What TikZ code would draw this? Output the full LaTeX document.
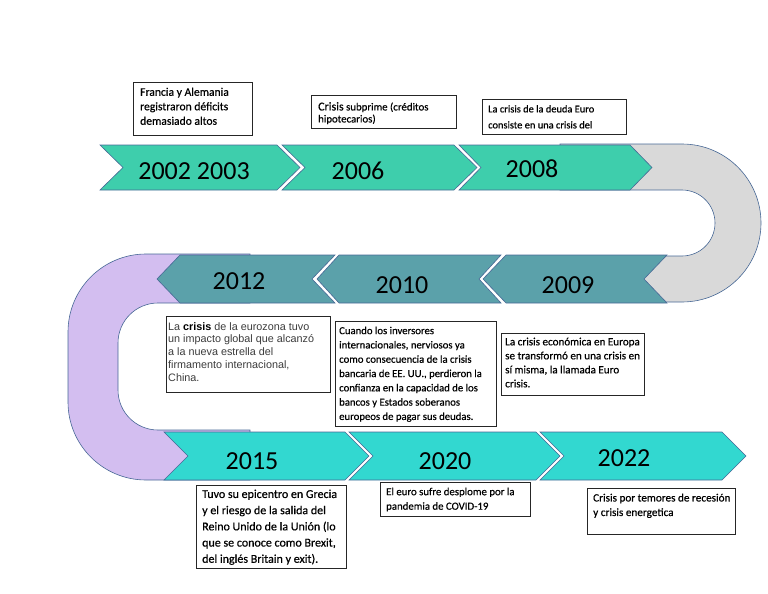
\documentclass[tikz,border=0pt]{standalone}
\usepackage{fontspec}
\setmainfont{Carlito}
\newfontfamily\boxf{Carlito}[FakeBold=0.5]
\newfontfamily\arialf{Liberation Sans}
\definecolor{topc}{RGB}{62,206,172}
\definecolor{midc}{RGB}{91,161,170}
\definecolor{botc}{RGB}{50,216,208}
\definecolor{grayc}{RGB}{217,217,217}
\definecolor{lavc}{RGB}{211,190,240}
\definecolor{edgec}{RGB}{72,104,150}
\definecolor{txtg}{RGB}{60,60,60}
\newcommand\chevR[6]{\path[#1] (#2,#4) -- (#3,#4) -- ({#3+#6},{(#4+#5)/2}) -- (#3,#5) -- (#2,#5) -- ({#2+#6},{(#4+#5)/2}) -- cycle;}
\newcommand\chevL[6]{\path[#1] (#2,{(#4+#5)/2}) -- ({#2+#6},#4) -- (#3,#4) -- ({#3-#6},{(#4+#5)/2}) -- (#3,#5) -- ({#2+#6},#5) -- cycle;}
\begin{document}
\begin{tikzpicture}[x=1pt,y=-1pt,
  shp/.style={draw=edgec, line width=0.6pt},
  year/.style={font=\fontsize{26}{28}\selectfont, inner sep=0pt},
  box/.style={draw=black!85, line width=0.7pt, fill=white, inner sep=0pt, anchor=north west},
  txt/.style={align=left, inner sep=0pt, anchor=north west}]
\useasboundingbox (0,0) rectangle (768,594);
% gray U-turn
\path[shp, fill=grayc] (560,144) -- (682,144) arc[start angle=-90, end angle=90, radius=79]
  -- (560,302) -- (560,256) -- (682,256) arc[start angle=90, end angle=-90, radius=33]
  -- (560,190) -- cycle;
% lavender U-turn
\path[shp, fill=lavc] (250,254) -- (146,254) arc[start angle=-90, end angle=-180, radius=78]
  -- (68,402) arc[start angle=180, end angle=90, radius=78]
  -- (250,480) -- (250,430) -- (158,430) arc[start angle=90, end angle=180, radius=40]
  -- (118,343) arc[start angle=180, end angle=270, radius=40] -- (250,303) -- cycle;
% row 1
\chevR{shp, fill=topc}{100}{277}{145}{190}{23}
\chevR{shp, fill=topc}{282}{454}{145}{190}{23}
\chevR{shp, fill=topc}{459}{630}{145}{190}{22}
% row 2
\chevL{shp, fill=midc}{483}{667}{255}{303}{23}
\chevL{shp, fill=midc}{317}{501}{255}{303}{22}
\chevL{shp, fill=midc}{157}{335}{255}{303}{23}
% row 3
\chevR{shp, fill=botc}{164}{345}{432}{480}{24}
\chevR{shp, fill=botc}{349}{536}{432}{480}{24}
\chevR{shp, fill=botc}{540}{722}{432}{480}{24}
% years
\node[year] (y0203) at (194,171) {2002 2003};
\node[year] (y06) at (358,171) {2006};
\node[year] (y08) at (532,169) {2008};
\node[year] (y09) at (568,285) {2009};
\node[year] (y10) at (402,285) {2010};
\node[year] (y12) at (239,281) {2012};
\node[year] (y15) at (252,461) {2015};
\node[year] (y20) at (445,461) {2020};
\node[year] (y22) at (624,458) {2022};
% boxes
\node[box, minimum width=119pt, minimum height=53pt] (b1) at (133,82) {};
\node[txt, font=\boxf\fontsize{11.6}{14.5}\selectfont] (t1) at (140,87.5) {Francia y Alemania\\registraron déficits\\demasiado altos};
\node[box, minimum width=145pt, minimum height=33pt] (b2) at (311,95) {};
\node[txt, font=\boxf\fontsize{10.8}{12}\selectfont] (t2) at (318,102) {{\fontsize{12}{12}\selectfont Crisis} subprime (créditos\\hipotecarios)};
\node[box, minimum width=144pt, minimum height=35pt] (b3) at (482,99) {};
\node[txt, font=\boxf\fontsize{10.4}{16}\selectfont] (t3) at (488,105) {La crisis de la deuda Euro\\consiste en una crisis del};
\node[box, minimum width=164pt, minimum height=76pt] (b4) at (166,316) {};
\node[txt, text=txtg, font=\arialf\fontsize{10.8}{12.8}\selectfont] (t4) at (168,322) {La \textcolor{black}{\textbf{crisis}} de la eurozona tuvo\\un impacto global que alcanzó\\a la nueva estrella del\\firmamento internacional,\\China.};
\node[box, minimum width=161pt, minimum height=105pt] (b5) at (335,321) {};
\node[txt, font=\boxf\fontsize{10.7}{14.3}\selectfont] (t5) at (339,326.5) {Cuando los inversores\\internacionales, nerviosos ya\\como consecuencia de la crisis\\bancaria de EE. UU., perdieron la\\confianza en la capacidad de los\\bancos y Estados soberanos\\europeos de pagar sus deudas.};
\node[box, minimum width=143pt, minimum height=62pt] (b6) at (501,333) {};
\node[txt, font=\boxf\fontsize{11.1}{14}\selectfont] (t6) at (505,337.5) {La crisis económica en Europa\\se transformó en una crisis en\\sí misma, la llamada Euro\\crisis.};
\node[box, minimum width=150pt, minimum height=83pt] (b7) at (196,485) {};
\node[txt, font=\boxf\fontsize{12}{16.2}\selectfont] (t7) at (202,489.5) {Tuvo su epicentro en Grecia\\y el riesgo de la salida del\\Reino Unido de la Unión (lo\\que se conoce como Brexit,\\del inglés Britain y exit).};
\node[box, minimum width=150pt, minimum height=34pt] (b8) at (380,482) {};
\node[txt, font=\boxf\fontsize{10.8}{14.5}\selectfont] (t8) at (386,487.5) {El euro sufre desplome por la\\pandemia de COVID-19};
\node[box, minimum width=148pt, minimum height=46pt] (b9) at (587,488) {};
\node[txt, font=\boxf\fontsize{11.2}{14.5}\selectfont] (t9) at (593,493.5) {Crisis por temores de recesión\\y crisis energetica};
\end{tikzpicture}
\end{document}
